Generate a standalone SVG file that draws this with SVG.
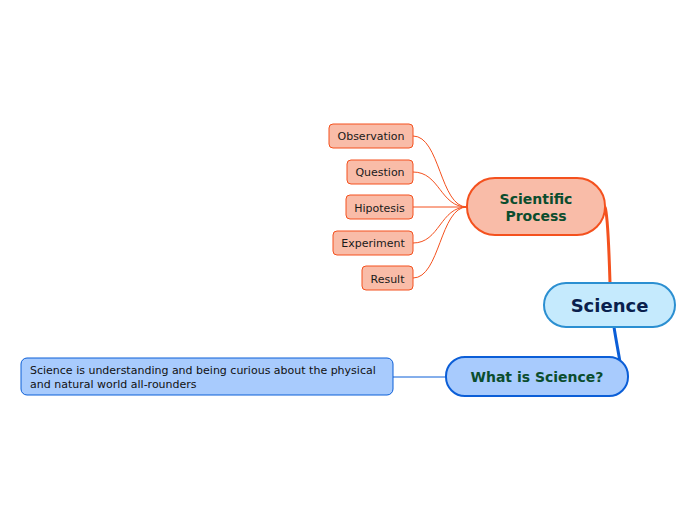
<svg xmlns="http://www.w3.org/2000/svg" width="696" height="520" viewBox="0 0 696 520">
<style>
text{font-family:"DejaVu Sans",Verdana,sans-serif;text-anchor:middle}
.leaf rect{fill:#f9bca8;stroke:#f4511e;stroke-width:1}
.leaf text{font-size:11px;fill:#1a1a1a}
.lc{fill:none;stroke:#f4511e;stroke-width:1}
</style>
<rect width="696" height="520" fill="#fff"/>
<g id="connectors">
<path d="M610,283 C609,250 608,215 605,207" fill="none" stroke="#f4511e" stroke-width="3"/>
<path d="M614,327 C616,340 618,350 620,362" fill="none" stroke="#0b5ed7" stroke-width="3"/>
<path d="M446,377 L393,377" fill="none" stroke="#0b5ed7" stroke-width="1"/>
<path class="lc" d="M413,136 C440,136 440,207 467,207"/>
<path class="lc" d="M413,172 C440,172 440,207 467,207"/>
<path class="lc" d="M413,207 L467,207"/>
<path class="lc" d="M413,243 C440,243 440,207 467,207"/>
<path class="lc" d="M413,278 C440,278 440,207 467,207"/>
</g>
<g id="science"><rect x="544" y="283" width="131" height="44" rx="22" fill="#c5eafd" stroke="#2b8fd1" stroke-width="2"/><text x="609.5" y="312" font-size="18" font-weight="bold" fill="#0a1f4d">Science</text></g>
<g id="process"><rect x="467" y="178" width="138" height="57" rx="28" fill="#f9bca8" stroke="#f4511e" stroke-width="2"/><text x="536" y="204" font-size="14" font-weight="bold" fill="#0b4d2e">Scientific</text><text x="536" y="221" font-size="14" font-weight="bold" fill="#0b4d2e">Process</text></g>
<g id="what"><rect x="446" y="357" width="182" height="39" rx="19" fill="#a8cbfd" stroke="#0b5ed7" stroke-width="2"/><text x="537" y="382" font-size="14" font-weight="bold" fill="#0b4d2e">What is Science?</text></g>
<g id="desc"><rect x="21" y="358" width="372" height="37" rx="6" fill="#a8cbfd" stroke="#0b5ed7" stroke-width="1"/><text x="30" y="374" font-size="11" fill="#111" style="text-anchor:start">Science is understanding and being curious about the physical</text><text x="30" y="388" font-size="11" fill="#111" style="text-anchor:start">and natural world all-rounders</text></g>
<g id="observation" class="leaf"><rect x="329" y="124" width="84" height="24" rx="4"/><text x="371" y="140">Observation</text></g>
<g id="question" class="leaf"><rect x="347" y="160" width="66" height="24" rx="4"/><text x="380" y="176">Question</text></g>
<g id="hipotesis" class="leaf"><rect x="346" y="195" width="67" height="24" rx="4"/><text x="379.5" y="212">Hipotesis</text></g>
<g id="experiment" class="leaf"><rect x="333" y="231" width="80" height="24" rx="4"/><text x="373" y="247">Experiment</text></g>
<g id="result" class="leaf"><rect x="362" y="266" width="51" height="24" rx="4"/><text x="387.5" y="283">Result</text></g>
</svg>
